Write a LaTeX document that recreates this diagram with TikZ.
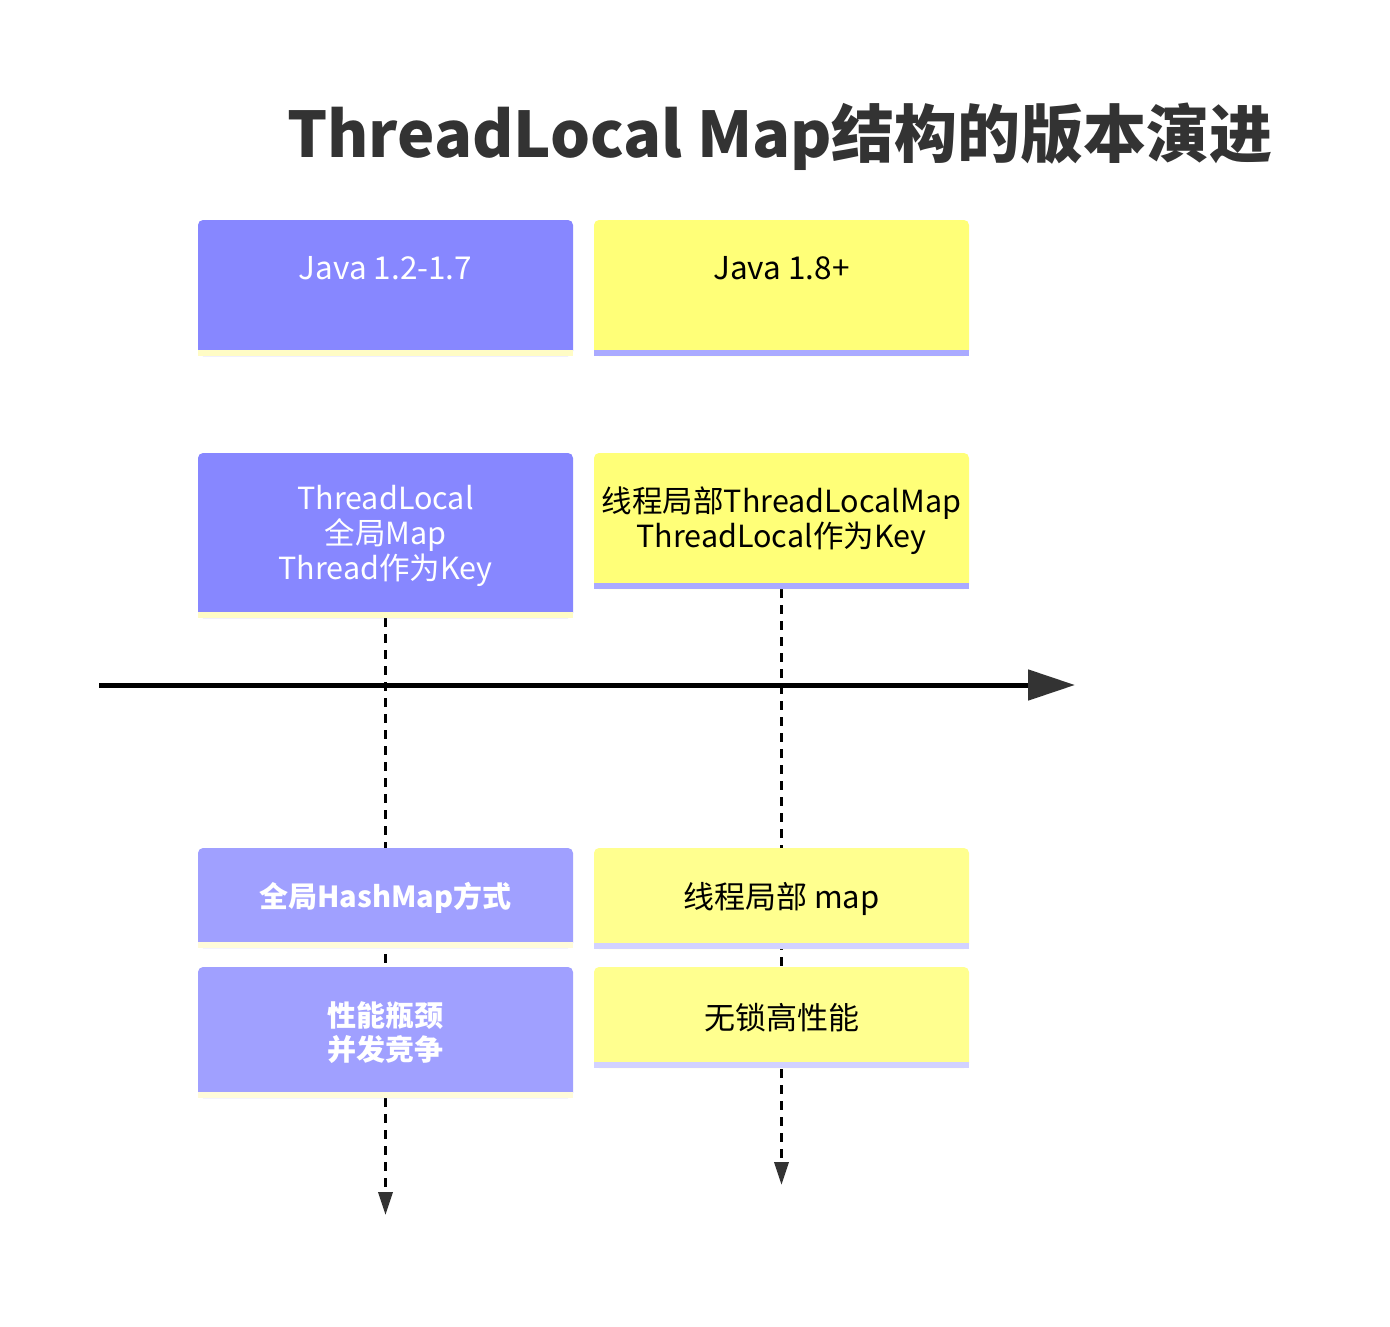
\documentclass[tikz,border=0pt]{standalone}
\usepackage{fontspec}
\setmainfont{Noto Sans CJK SC}
\usetikzlibrary{arrows.meta,backgrounds}

\definecolor{secA}{HTML}{8787FF}
\definecolor{secB}{HTML}{FFFF78}
\definecolor{evA}{HTML}{A0A0FF}
\definecolor{evB}{HTML}{FFFF8F}
\definecolor{stripA}{HTML}{FFFCC6}
\definecolor{stripB}{HTML}{AAAAFF}
\definecolor{evstripA}{HTML}{FFFBDA}
\definecolor{evstripB}{HTML}{D2D2FF}
\definecolor{titlegray}{HTML}{333333}

\begin{document}
\begin{tikzpicture}[x=1pt,y=-1pt,
  box/.style={rounded corners=5pt, minimum width=375pt, inner sep=0pt},
  sectxt/.style={font=\fontsize{31.5}{34}\selectfont},
  pertxt/.style={align=center, font=\fontsize{30.5}{35}\selectfont},
  evtxt/.style={align=center, font=\fontsize{31}{34}\selectfont},
  dashline/.style={line width=3.5pt, dash pattern=on 9pt off 7pt,
    -{Triangle[length=23pt,width=14pt,color=titlegray]}}]
\useasboundingbox (0,0) rectangle (1390,1326);

\node[font=\fontsize{63}{66}\selectfont\bfseries, text=titlegray] (title) at (780,137) {ThreadLocal Map结构的版本演进};

% sections
\node[box, fill=secA, minimum height=136pt] (sec1) at (385.5,288) {};
\node[box, fill=secB, minimum height=136pt] (sec2) at (781.5,288) {};
\fill[stripA] (sec1.south west) rectangle ([yshift=6pt]sec1.south east);
\fill[stripB] (sec2.south west) rectangle ([yshift=6pt]sec2.south east);
\node[sectxt, text=white] (sec1t) at ([yshift=-48pt]sec1.north) {Java 1.2-1.7};
\node[sectxt] (sec2t) at ([yshift=-48pt]sec2.north) {Java 1.8+};

% periods
\node[box, fill=secA, minimum height=165pt, pertxt, text=white] (per1) at (385.5,535.5) {ThreadLocal\\全局Map\\Thread作为Key};
\node[box, fill=secB, minimum height=136pt, pertxt] (per2) at (781.5,521) {线程局部ThreadLocalMap\\ThreadLocal作为Key};
\fill[stripA] (per1.south west) rectangle ([yshift=6pt]per1.south east);
\fill[stripB] (per2.south west) rectangle ([yshift=6pt]per2.south east);

% events
\node[box, fill=evA, minimum height=100pt, evtxt, text=white, font=\fontsize{29}{34}\selectfont\bfseries] (ev1) at (385.5,898) {全局HashMap方式};
\node[box, fill=evA, minimum height=131pt, evtxt, text=white, font=\fontsize{29}{34}\selectfont\bfseries] (ev2) at (385.5,1032.5) {性能瓶颈\\并发竞争};
\node[box, fill=evB, minimum height=101pt, evtxt] (ev3) at (781.5,898.5) {线程局部 map};
\node[box, fill=evB, minimum height=101pt, evtxt] (ev4) at (781.5,1017.5) {无锁高性能};
\fill[evstripA] (ev1.south west) rectangle ([yshift=6pt]ev1.south east);
\fill[evstripA] (ev2.south west) rectangle ([yshift=6pt]ev2.south east);
\fill[evstripB] (ev3.south west) rectangle ([yshift=6pt]ev3.south east);
\fill[evstripB] (ev4.south west) rectangle ([yshift=6pt]ev4.south east);

\coordinate (end1) at (385.5,1215);
\coordinate (end2) at (781.5,1185);
\coordinate (ax0) at (99,685);
\coordinate (ax1) at (1075,685);

\begin{pgfonlayer}{background}
\draw[dashline] (per1.south) -- (end1);
\draw[dashline] (per2.south) -- (end2);
\end{pgfonlayer}

\draw[line width=5pt, -{Triangle[length=47pt,width=30pt,color=titlegray]}] (ax0) -- (ax1);
\end{tikzpicture}
\end{document}
